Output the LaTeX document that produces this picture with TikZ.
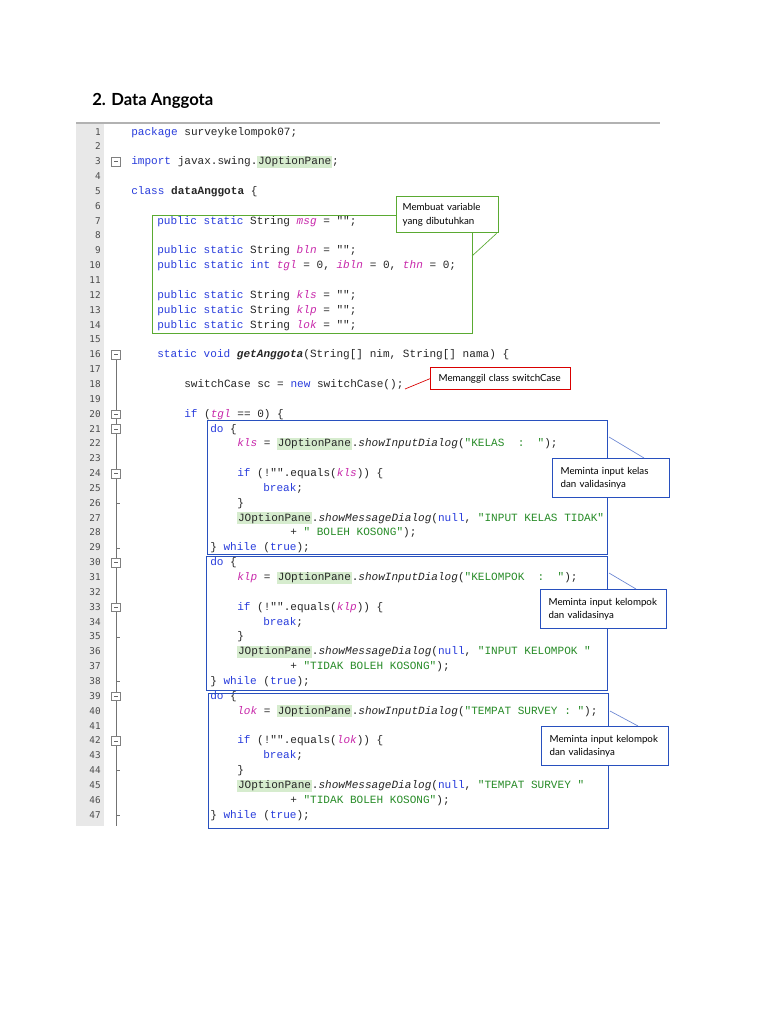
\documentclass[tikz,border=0pt]{standalone}
\usepackage{fontspec}
\setmainfont{Lato}
\newfontfamily\cf{Liberation Mono}
\newfontfamily\nf{DejaVu Sans Mono}
\definecolor{kwc}{RGB}{40,60,220}
\definecolor{vrc}{RGB}{200,40,170}
\definecolor{stc}{RGB}{40,140,40}
\definecolor{hlc}{RGB}{214,236,206}
\definecolor{gut}{RGB}{232,232,232}
\definecolor{grn}{RGB}{90,170,50}
\definecolor{bluebox}{RGB}{40,80,190}
\newcommand\kw[1]{\textcolor{kwc}{#1}}
\newcommand\vr[1]{\textcolor{vrc}{\itshape #1}}
\newcommand\st[1]{\textcolor{stc}{#1}}
\newcommand\hl[1]{\colorbox{hlc}{#1}}
\newcommand\mt[1]{\textit{#1}}
\begin{document}
\begin{tikzpicture}[x=0.75pt,y=-0.75pt,
  code/.style={anchor=base west,inner sep=0pt,font=\cf\fontsize{8.3}{9}\selectfont,text=black!85},
  lnum/.style={anchor=base east,inner sep=0pt,font=\nf\fontsize{7}{8}\selectfont,text=black!70},
  note/.style={draw,line width=1pt,anchor=north west,align=left,inner sep=0pt,font=\fontsize{7.3}{10}\selectfont},
  fold/.style={draw=black!50,fill=white,minimum size=6.5pt,inner sep=0pt,line width=0.4pt},
  lk/.style={line width=0.5pt}]
\setlength{\fboxsep}{0.6pt}
\useasboundingbox[fill=white] (0,0) rectangle (768,1024);
\node[anchor=base west,inner sep=0pt,font=\bfseries\fontsize{12.5}{14}\selectfont] (title) at (92,105) {2. Data Anggota};
\fill[gut] (76,124) rectangle (104,826);
\draw[black!30,line width=0.8pt] (76,123) -- (660,123);
\foreach \n in {1,...,47} {
  \node[lnum] (n\n) at (101,{132+(\n-1)*14.85+3}) {\n};
}
\draw[black!55,line width=0.5pt] (116,{132+15*14.85}) -- (116,826);
\foreach \n in {26,29,35,38,44,47} { \draw[black!55,line width=0.4pt] (116,{132+(\n-1)*14.85}) -- (120,{132+(\n-1)*14.85}); }
\foreach \n in {3,16,20,21,24,30,33,39,42} {
  \node[fold] (f\n) at (116,{132+(\n-1)*14.85}) {};
  \draw[black!60,line width=0.4pt] (114,{132+(\n-1)*14.85}) -- (118,{132+(\n-1)*14.85});
}
\newcommand\cl[3]{\node[code] (c#1) at (#2,{132+(#1-1)*14.85+3}) {#3};}
\cl{1}{131}{\kw{package} surveykelompok07;}
\cl{3}{131}{\kw{import} javax.swing.\hl{JOptionPane};}
\cl{5}{131}{\kw{class} \textbf{dataAnggota} \{}
\cl{7}{157}{\kw{public static} String \vr{msg} = "";}
\cl{9}{157}{\kw{public static} String \vr{bln} = "";}
\cl{10}{157}{\kw{public static int} \vr{tgl} = 0, \vr{ibln} = 0, \vr{thn} = 0;}
\cl{12}{157}{\kw{public static} String \vr{kls} = "";}
\cl{13}{157}{\kw{public static} String \vr{klp} = "";}
\cl{14}{157}{\kw{public static} String \vr{lok} = "";}
\cl{16}{157}{\kw{static void} \textbf{\itshape getAnggota}(String[] nim, String[] nama) \{}
\cl{18}{184}{switchCase sc = \kw{new} switchCase();}
\cl{20}{184}{\kw{if} (\vr{tgl} == 0) \{}
\cl{21}{210}{\kw{do} \{}
\cl{22}{237}{\vr{kls} = \hl{JOptionPane}.\mt{showInputDialog}(\st{"KELAS\ \ :\ \ "});}
\cl{24}{237}{\kw{if} (!"".equals(\vr{kls})) \{}
\cl{25}{263}{\kw{break};}
\cl{26}{237}{\}}
\cl{27}{237}{\hl{JOptionPane}.\mt{showMessageDialog}(\kw{null}, \st{"INPUT KELAS TIDAK"}}
\cl{28}{290}{+ \st{" BOLEH KOSONG"});}
\cl{29}{210}{\} \kw{while} (\kw{true});}
\cl{30}{210}{\kw{do} \{}
\cl{31}{237}{\vr{klp} = \hl{JOptionPane}.\mt{showInputDialog}(\st{"KELOMPOK\ \ :\ \ "});}
\cl{33}{237}{\kw{if} (!"".equals(\vr{klp})) \{}
\cl{34}{263}{\kw{break};}
\cl{35}{237}{\}}
\cl{36}{237}{\hl{JOptionPane}.\mt{showMessageDialog}(\kw{null}, \st{"INPUT KELOMPOK "}}
\cl{37}{290}{+ \st{"TIDAK BOLEH KOSONG"});}
\cl{38}{210}{\} \kw{while} (\kw{true});}
\cl{39}{210}{\kw{do} \{}
\cl{40}{237}{\vr{lok} = \hl{JOptionPane}.\mt{showInputDialog}(\st{"TEMPAT SURVEY\ :\ "});}
\cl{42}{237}{\kw{if} (!"".equals(\vr{lok})) \{}
\cl{43}{263}{\kw{break};}
\cl{44}{237}{\}}
\cl{45}{237}{\hl{JOptionPane}.\mt{showMessageDialog}(\kw{null}, \st{"TEMPAT SURVEY "}}
\cl{46}{290}{+ \st{"TIDAK BOLEH KOSONG"});}
\cl{47}{210}{\} \kw{while} (\kw{true});}
\node[draw=grn,line width=1pt,inner sep=0pt,minimum width=320*0.75pt,minimum height=118*0.75pt,anchor=north west] (gbox) at (152,215) {};
\node[draw=bluebox,line width=1pt,inner sep=0pt,minimum width=400*0.75pt,minimum height=134*0.75pt,anchor=north west] (b1) at (207,420) {};
\node[draw=bluebox,line width=1pt,inner sep=0pt,minimum width=401*0.75pt,minimum height=134*0.75pt,anchor=north west] (b2) at (206,556) {};
\node[draw=bluebox,line width=1pt,inner sep=0pt,minimum width=400*0.75pt,minimum height=135*0.75pt,anchor=north west] (b3) at (208,693) {};
\node[note,draw=grn,fill=white,minimum width=102*0.75pt,minimum height=36*0.75pt,text width=90*0.75pt,inner xsep=5*0.75pt,inner ysep=4*0.75pt] (g) at (396,196) {Membuat variable\\yang dibutuhkan};
\coordinate (gb) at (472,256);
\draw[grn,lk] ([xshift=-2pt]g.south east) -- (gb);
\node[note,draw=red!85!black,fill=white,minimum width=140*0.75pt,minimum height=22*0.75pt,text width=124*0.75pt,inner xsep=8*0.75pt,inner ysep=5*0.75pt] (r) at (430,367) {Memanggil class switchCase};
\coordinate (ra) at (405,389);
\draw[red!85!black,lk] (ra) -- (r.west);
\node[note,draw=bluebox,fill=white,minimum width=117*0.75pt,minimum height=39*0.75pt,text width=101*0.75pt,inner xsep=8*0.75pt,inner ysep=5*0.75pt] (k1) at (552,458) {Meminta input kelas\\dan validasinya};
\node[note,draw=bluebox,fill=white,minimum width=126*0.75pt,minimum height=39*0.75pt,text width=110*0.75pt,inner xsep=8*0.75pt,inner ysep=5*0.75pt] (k2) at (540,589) {Meminta input kelompok\\dan validasinya};
\node[note,draw=bluebox,fill=white,minimum width=127*0.75pt,minimum height=39*0.75pt,text width=111*0.75pt,inner xsep=8*0.75pt,inner ysep=5*0.75pt] (k3) at (541,726) {Meminta input kelompok\\dan validasinya};
\coordinate (p1) at (609,437); \coordinate (p2) at (609,573); \coordinate (p3) at (610,711);
\draw[bluebox!70,lk] (p1) -- (k1.north -| 644,0);
\draw[bluebox!70,lk] (p2) -- (k2.north -| 636,0);
\draw[bluebox!70,lk] (p3) -- (k3.north -| 638,0);
\end{tikzpicture}
\end{document}
